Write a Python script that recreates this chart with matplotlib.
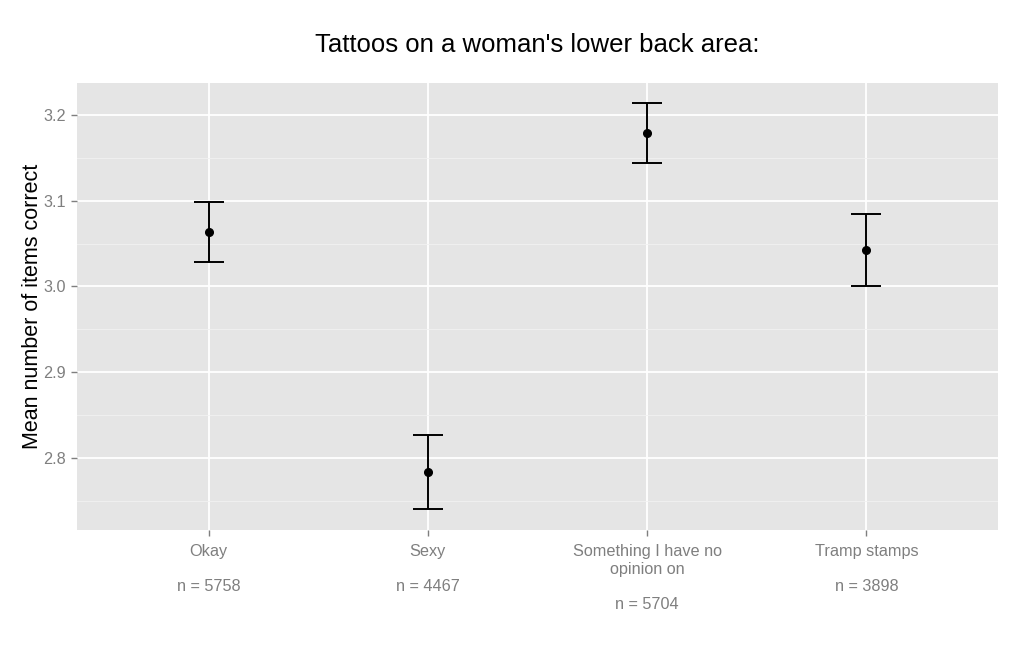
import matplotlib
matplotlib.use("Agg")
import matplotlib.pyplot as plt
from matplotlib.ticker import MultipleLocator
import numpy as np

categories = ["Okay", "Sexy", "Something I have no\nopinion on", "Tramp stamps"]
counts = [5758, 4467, 5704, 3898]
means = [3.063, 2.783, 3.179, 3.043]
upper = [3.098, 2.826, 3.214, 3.085]
lower = [3.028, 2.740, 3.144, 3.000]

plt.rcParams['font.family'] = ['Liberation Sans', 'DejaVu Sans']

fig = plt.figure(figsize=(10.24, 6.51), dpi=100)
ax = fig.add_axes([77/1024, 1-530/651, 921/1024, 447/651])
ax.set_facecolor('#E5E5E5')

x = np.arange(1, len(categories)+1)
m = np.array(means)
err = [m - np.array(lower), np.array(upper) - m]
ax.errorbar(x, m, yerr=err, fmt='o', color='black', ms=5.5, elinewidth=1.4,
            capsize=11, capthick=1.4, zorder=3)

ax.set_xlim(0.4, 4.6)
ax.set_ylim(2.7157, 3.2373)
ax.yaxis.set_major_locator(MultipleLocator(0.1))
ax.yaxis.set_minor_locator(MultipleLocator(0.05))
ax.set_yticks([2.8, 2.9, 3.0, 3.1, 3.2])
ax.set_yticklabels(["2.8", "2.9", "3.0", "3.1", "3.2"])
ax.set_xticks(x)
ax.set_xticklabels([f"{c}\n\nn = {n}" for c, n in zip(categories, counts)],
                   linespacing=1.22)

ax.grid(which='major', color='white', linewidth=1.3, zorder=0)
ax.grid(which='minor', axis='y', color='#F2F2F2', linewidth=0.6, zorder=0)
ax.set_axisbelow(True)
for s in ax.spines.values():
    s.set_visible(False)
ax.tick_params(axis='both', which='major', color='#7F7F7F', length=4, width=1,
               labelcolor='#7F7F7F', labelsize=11.7)
ax.tick_params(axis='x', pad=6)
ax.tick_params(axis='y', pad=4)
ax.tick_params(which='minor', length=0)
for lab in ax.get_xticklabels():
    lab.set_verticalalignment('top')
    lab.set_horizontalalignment('center')

ax.set_ylabel("Mean number of items correct", fontsize=15.5, color='black', labelpad=0)
ax.set_title("Tattoos on a woman's lower back area:", fontsize=18.5, color='black', pad=22)

fig.savefig("out.png", dpi=100, facecolor='white')
